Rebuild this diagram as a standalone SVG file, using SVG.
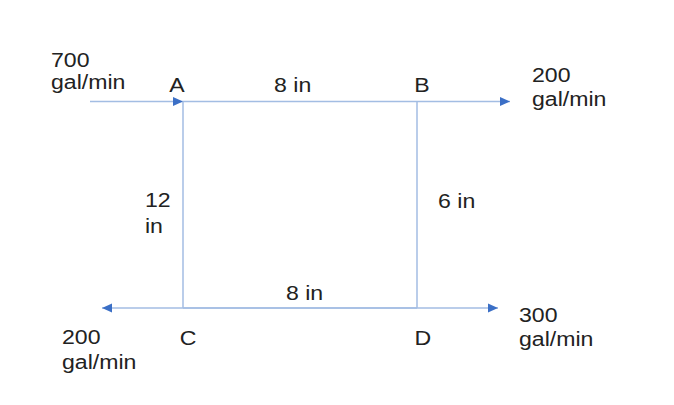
<svg xmlns="http://www.w3.org/2000/svg" width="674" height="405" viewBox="0 0 674 405">
<style>
text{font-family:"Liberation Sans",Arial,sans-serif;font-size:21px;fill:#222}
.pipe{stroke:#a3bde3;stroke-width:1.5;fill:none}
</style>
<defs>
<marker id="ah" viewBox="0 0 10 10" refX="10" refY="5" markerWidth="10" markerHeight="10" markerUnits="userSpaceOnUse" orient="auto">
<path d="M0,0.5 L10,5 L0,9.5 Z" fill="#3b6fc6"/>
</marker>
</defs>
<rect width="674" height="405" fill="#fff"/>
<g id="connectors">
<line class="pipe" x1="90" y1="101.5" x2="183" y2="101.5" marker-end="url(#ah)"/>
<line class="pipe" x1="183" y1="101.5" x2="510" y2="101.5" marker-end="url(#ah)"/>
<line class="pipe" x1="183" y1="101.5" x2="183" y2="308"/>
<line class="pipe" x1="417" y1="101.5" x2="417" y2="308"/>
<line class="pipe" x1="417" y1="308" x2="102" y2="308" marker-end="url(#ah)"/>
<line class="pipe" x1="183" y1="308" x2="498" y2="308" marker-end="url(#ah)"/>
</g>
<g id="labels" transform="scale(1.1,1)">
<g id="inflow"><text x="46.4" y="67">700</text><text x="46.4" y="89">gal/min</text></g>
<g id="nodeA"><text x="160.9" y="92" text-anchor="middle">A</text></g>
<g id="nodeB"><text x="383.6" y="92" text-anchor="middle">B</text></g>
<g id="nodeC"><text x="170.9" y="345" text-anchor="middle">C</text></g>
<g id="nodeD"><text x="384.5" y="345" text-anchor="middle">D</text></g>
<g id="outB"><text x="483.6" y="82">200</text><text x="483.6" y="106">gal/min</text></g>
<g id="outC"><text x="56.4" y="344">200</text><text x="56.4" y="369">gal/min</text></g>
<g id="outD"><text x="471.8" y="322">300</text><text x="471.8" y="346">gal/min</text></g>
<g id="labelAB"><text x="249.1" y="92">8 in</text></g>
<g id="labelAC"><text x="131.8" y="207">12</text><text x="131.8" y="233">in</text></g>
<g id="labelBD"><text x="398.2" y="208">6 in</text></g>
<g id="labelCD"><text x="260" y="300">8 in</text></g>
</g>
</svg>
